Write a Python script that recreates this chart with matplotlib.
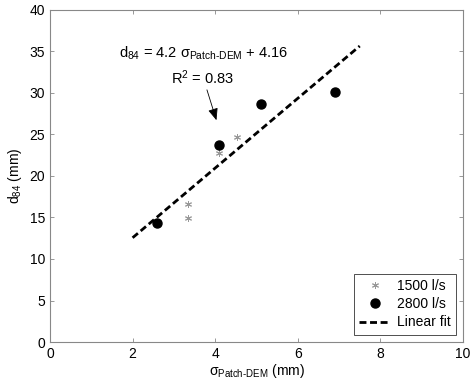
import matplotlib
matplotlib.use("Agg")
import matplotlib.pyplot as plt
import numpy as np

plt.rcParams['font.family'] = ['Liberation Sans', 'DejaVu Sans']
plt.rcParams['mathtext.fontset'] = 'custom'
plt.rcParams['mathtext.rm'] = 'Liberation Sans'
plt.rcParams['mathtext.it'] = 'Liberation Sans'

x_1500 = [3.35, 3.35, 4.08, 4.52]
y_1500 = [16.6, 14.9, 22.8, 24.7]
x_2800 = [2.6, 4.1, 5.1, 6.9]
y_2800 = [14.3, 23.7, 28.7, 30.1]
fit_slope = 4.2
fit_intercept = 4.16
fit_range = [2.0, 7.5]
xticks = [0, 2, 4, 6, 8, 10]
yticks = [0, 5, 10, 15, 20, 25, 30, 35, 40]

fig = plt.figure(figsize=(4.74, 3.81), dpi=100)
ax = fig.add_axes([50/474, 1-342/381, 413/474, 332/381])

ax.plot(x_1500, y_1500, linestyle='none', marker=(6, 2, 0), markersize=5,
        color='#999999', markeredgewidth=0.7, label='1500 l/s')
ax.plot(x_2800, y_2800, linestyle='none', marker='o', markersize=6.5,
        color='black', label='2800 l/s')
xf = np.array(fit_range)
ax.plot(xf, fit_slope*xf + fit_intercept, 'k--', linewidth=2, dashes=(2.5, 1.3),
        label='Linear fit')

ax.set_xlim(0, 10)
ax.set_ylim(0, 40)
ax.set_xticks(xticks)
ax.set_yticks(yticks)
ax.tick_params(direction='in', top=True, right=True, labelsize=10,
               length=3, color='#888888', width=0.6)
for s in ax.spines.values():
    s.set_color('#888888')
    s.set_linewidth(0.8)

ax.set_xlabel(r'$\sigma_{\mathrm{Patch\text{-}DEM}}$ (mm)', fontsize=10, labelpad=1)
ax.set_ylabel(r'd$_{84}$ (mm)', fontsize=10, labelpad=4)

ax.text(3.73, 34.8, r'd$_{84}$ = 4.2 $\sigma_{\mathrm{Patch\text{-}DEM}}$ + 4.16',
        ha='center', va='center', fontsize=10.5)
ax.text(3.7, 31.8, r'R$^2$ = 0.83', ha='center', va='center', fontsize=10.5)
ax.annotate('', xy=(4.05, 26.4), xytext=(3.78, 30.7),
            arrowprops=dict(arrowstyle='-|>,head_length=0.6,head_width=0.25',
                            color='black', lw=0.6, mutation_scale=12))

leg = ax.legend(loc='lower right', fontsize=10, frameon=True, fancybox=False,
                edgecolor='black', handlelength=2.2, borderaxespad=0.5,
                handletextpad=0.5, labelspacing=0.3)
leg.get_frame().set_linewidth(0.6)

fig.savefig('out.png', dpi=100)
